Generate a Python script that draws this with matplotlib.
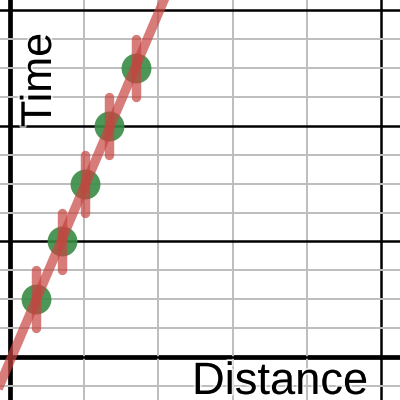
import numpy as np
import matplotlib
matplotlib.use("Agg")
import matplotlib.pyplot as plt
import matplotlib.patheffects as pe

# values
distance = [0.35, 0.705, 1.01, 1.338, 1.694]
time = [1, 2, 3, 4, 5]
time_err = [0.5, 0.5, 0.5, 0.5, 0.5]

x_major = [0, 5]
y_major = [0, 2, 4, 6]

red = "#c74440"
green = "#388c46"

fig = plt.figure(figsize=(4, 4), dpi=100)
ax = fig.add_axes([0, 0, 1, 1])
ax.set_xlim(-0.1348, 5.256)
ax.set_ylim(-0.744, 6.177)

# grid
ax.set_xticks(x_major)
ax.set_yticks(y_major)
ax.set_xticks(np.arange(0, 6, 1), minor=True)
ax.set_yticks(np.arange(-0.5, 6.5, 0.5), minor=True)
ax.grid(which="minor", color="#bdbdbd", linewidth=1.4, zorder=0)
ax.grid(which="major", color="black", linewidth=1.8, zorder=0.5)
ax.tick_params(which="both", length=0, labelbottom=False, labelleft=False)
for s in ax.spines.values():
    s.set_visible(False)
ax.axhline(0, color="black", linewidth=3.4, zorder=1)
ax.axvline(0, color="black", linewidth=3.4, zorder=1)

# points
ax.plot(distance, time, "o", color=green, alpha=0.9, markersize=21.5,
        markeredgewidth=0, zorder=2)

# error bars
lo = np.array(time) - np.array(time_err)
hi = np.array(time) + np.array(time_err)
ax.vlines(distance, lo, hi, color=red, alpha=0.7, linewidth=6.8,
          capstyle="round", zorder=3)

# fitted line
m, b = np.polyfit(distance, time, 1)
xs = np.array(ax.get_xlim())
ax.plot(xs, m * xs + b, color=red, alpha=0.7, linewidth=6.8, zorder=3)

halo = [pe.withStroke(linewidth=3, foreground="white", alpha=0.6)]
fig.text(51 / 400, 1 - 127 / 400, "Time", rotation=90, rotation_mode="anchor",
         ha="left", va="baseline", fontsize=31, family="Liberation Sans",
         path_effects=halo, zorder=5)
fig.text(192 / 400, 1 - 394 / 400, "Distance", ha="left", va="baseline",
         fontsize=32.6, family="Liberation Sans", path_effects=halo, zorder=5)

fig.savefig("out.png", dpi=100)
